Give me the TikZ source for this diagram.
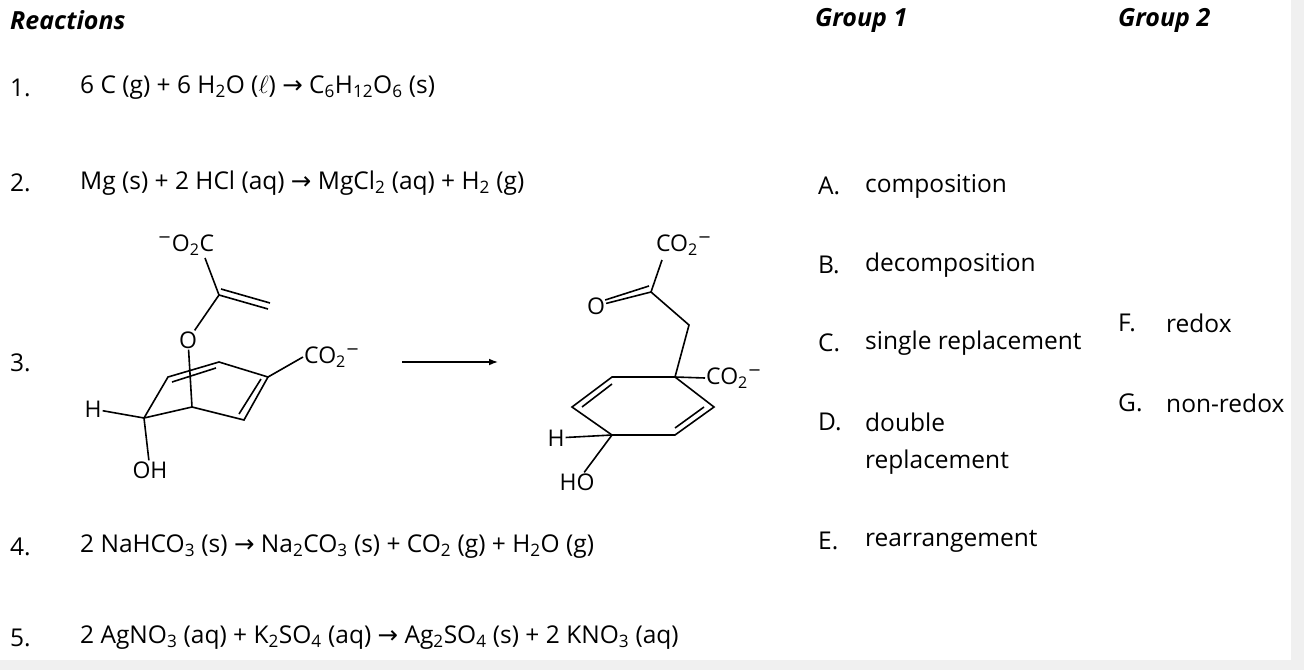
\documentclass[tikz,border=0pt]{standalone}
\usepackage{fontspec}
\setmainfont{Open Sans}
\newfontfamily\djv{DejaVu Sans}
\usetikzlibrary{arrows.meta,calc}
\newcommand{\ra}{{\djv\char"2192}}
\newcommand{\sub}[1]{\textsubscript{#1}}
\newcommand{\minus}{\textsuperscript{\djv\char"2212}}
\begin{document}
\begin{tikzpicture}[x=1pt,y=-1pt,
  txt/.style={anchor=west,inner sep=0pt,font=\fontsize{24.5}{28}\selectfont},
  hdr/.style={anchor=west,inner sep=0pt,font=\fontsize{25}{28}\selectfont\bfseries\itshape},
  lab/.style={inner sep=1pt,font=\fontsize{23}{26}\selectfont},
  bond/.style={line width=1.6pt}]
\fill[gray!12] (0,0) rectangle (1304,670);
\fill[white] (0,0) rectangle (1291,660);
\useasboundingbox (0,0) rectangle (1304,670);
\node[hdr] (h0) at (10,20) {Reactions};
\node[hdr] (h1) at (815,20) {Group 1};
\node[hdr] (h2) at (1118,20) {Group 2};
\node[txt] (n1) at (10,88) {1.};
\node[txt] (r1) at (80,88) {6 C (g) + 6 H\sub{2}O ($\ell$) \ra\ C\sub{6}H\sub{12}O\sub{6} (s)};
\node[txt] (n2) at (10,183) {2.};
\node[txt] (r2) at (80,183) {Mg (s) + 2 HCl (aq) \ra\ MgCl\sub{2} (aq) + H\sub{2} (g)};
\node[txt] (n3) at (10,363) {3.};
\node[txt] (n4) at (10,547) {4.};
\node[txt] (r4) at (80,547) {2 NaHCO\sub{3} (s) \ra\ Na\sub{2}CO\sub{3} (s) + CO\sub{2} (g) + H\sub{2}O (g)};
\node[txt] (n5) at (10,638) {5.};
\node[txt] (r5) at (80,638) {2 AgNO\sub{3} (aq) + K\sub{2}SO\sub{4} (aq) \ra\ Ag\sub{2}SO\sub{4} (s) + 2 KNO\sub{3} (aq)};
\node[txt] (la) at (818,186) {A.}; \node[txt] (ta) at (865,186) {composition};
\node[txt] (lb) at (818,265) {B.}; \node[txt] (tb) at (865,265) {decomposition};
\node[txt] (lc) at (818,343) {C.}; \node[txt] (tc) at (865,343) {single replacement};
\node[txt] (ld) at (818,422) {D.}; \node[txt] (td) at (865,422) {double};
\node[txt] (td2) at (865,462) {replacement};
\node[txt] (le) at (818,541) {E.}; \node[txt] (te) at (865,541) {rearrangement};
\node[txt] (lf) at (1118,323) {F.}; \node[txt] (tf) at (1166,323) {redox};
\node[txt] (lg) at (1118,403) {G.}; \node[txt] (tg) at (1166,403) {non-redox};
% left molecule
\node[lab] (co2a) at (186,245) {\minus O\sub{2}C};
\node[lab] (O1) at (188,340) {O};
\node[lab] (H1) at (93,409) {H};
\node[lab] (OH1) at (150,470) {OH};
\node[lab,anchor=west] (co2b) at (303,357) {CO\sub{2}\minus};
\coordinate (ca) at (219,295);
\coordinate (ch2) at (268,309);
\coordinate (bh) at (192,407);
\coordinate (cH) at (144,418);
\coordinate (c2) at (168,377);
\coordinate (c3) at (219,362);
\coordinate (c4) at (268,377);
\coordinate (c5) at (244,420);
\draw[bond] (205,258) -- (ca);
\draw[bond] (ca) -- (ch2);
\draw[bond] ($(ca)+(2,-6)$) -- ($(ch2)+(2,-6)$);
\draw[bond] (ca) -- (O1);
\draw[bond] (O1) -- (bh);
\draw[bond] (H1) -- (cH) -- (bh);
\draw[bond] (cH) -- (c2) -- (c3) -- (c4) -- (c5) -- (bh);
\draw[bond] ($(c2)+(4,5)$) -- ($(c3)+(-3,6)$);
\draw[bond] ($(c4)+(-7,2)$) -- ($(c5)+(-5,-6)$);
\draw[bond] (c4) -- (co2b.west);
\draw[bond] (cH) -- (OH1);
% arrow
\coordinate (a1) at (402,362); \coordinate (a2) at (498,362);
\draw[line width=1.3pt,-{Latex[length=9pt]}] (a1) -- (a2);
% right molecule
\node[lab] (co2c) at (684,245) {CO\sub{2}\minus};
\node[lab] (O2) at (596,306) {O};
\node[lab,anchor=west] (co2d) at (705,378) {CO\sub{2}\minus};
\node[lab] (H2) at (556,438) {H};
\node[lab] (HO2) at (577,482) {HO};
\coordinate (cc) at (651,292);
\coordinate (cm) at (689,325);
\coordinate (q) at (675,377);
\coordinate (r1) at (612,377);
\coordinate (r2) at (572,407);
\coordinate (r3) at (612,435);
\coordinate (r4) at (675,435);
\coordinate (r5) at (714,407);
\draw[bond] (662,260) -- (cc) -- (cm) -- (q);
\draw[bond] (cc) -- (O2);
\draw[bond] ($(cc)+(-2,-6)$) -- ($(O2.east)+(-1,-6)$);
\draw[bond] (q) -- (co2d.west);
\draw[bond] (q) -- (r1) -- (r2) -- (r3) -- (r4) -- (r5) -- (q);
\draw[bond] ($(r1)+(0,7)$) -- ($(r2)+(10,0)$);
\draw[bond] ($(r4)+(0,-7)$) -- ($(r5)+(-10,0)$);
\draw[bond] (H2) -- (r3);
\draw[bond] (r3) -- (HO2);
\end{tikzpicture}
\end{document}
